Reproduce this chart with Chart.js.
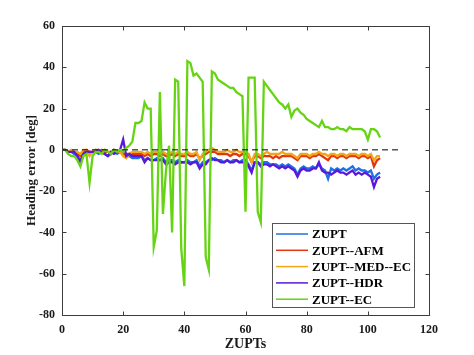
<!DOCTYPE html>
<html>
<head>
<meta charset="utf-8">
<script src="https://cdn.jsdelivr.net/npm/chart.js@4.4.0/dist/chart.umd.min.js"></script>
<style>
  html, body { margin: 0; padding: 0; background: #ffffff; }
  #wrap { width: 474px; height: 355px; }
</style>
</head>
<body>
<div id="wrap"><canvas id="c" width="474" height="355"></canvas></div>
<script>
// ---- data ----
const zupts = [
  0,1,2,3,4,5,6,7,8,9,10,11,12,13,14,15,16,17,18,19,20,21,22,23,24,25,26,27,28,29,
  30,31,32,33,34,35,36,37,38,39,40,41,42,43,44,45,46,47,48,49,50,51,52,53,54,55,56,57,58,59,
  60,61,62,63,64,65,66,67,68,69,70,71,72,73,74,75,76,77,78,79,80,81,82,83,84,85,86,87,88,89,
  90,91,92,93,94,95,96,97,98,99,100,101,102,103,104
];
const seriesNames = ['ZUPT', 'ZUPT--AFM', 'ZUPT--MED--EC', 'ZUPT--HDR', 'ZUPT--EC'];
const zupt = [
  0,0,-1,-1,-2,-3,-5,-2,-1,-2, -1,-1,-2,-1,-2,-3,-2,-1,-2,-1,
  -2,-3,-3,-4,-4,-4,-3,-5,-4,-5, -5,-4,-5,-4,-6,-5,-5,-6,-5,-6,
  -6,-5,-6,-6,-5,-8,-6,-6,-5,-5, -4,-5,-5,-6,-5,-6,-5,-5,-6,-5,
  -5,-7,-10,-6,-6,-7,-6,-6,-7,-7, -7,-8,-7,-8,-7,-8,-9,-12,-9,-8,
  -9,-9,-8,-9,-7,-9,-10,-14,-9,-10, -9,-10,-9,-10,-9,-8,-10,-9,-10,-10,
  -11,-10,-14,-12,-11
];
const zuptAfm = [
  0,0,-1,-1,-1,-2,-3,-1,0,-1, -1,0,-1,0,-1,-1,-2,0,-1,-1,
  -2,-2,-2,-2,-2,-2,-2,-3,-2,-3, -2,-2,-3,-2,-3,-3,-2,-3,-2,-3,
  -3,-2,-3,-3,-2,-4,-3,-2,-1,-1, -1,-2,-2,-2,-2,-3,-2,-2,-3,-2,
  -2,-3,-6,-3,-3,-4,-3,-3,-3,-4, -3,-4,-3,-3,-3,-3,-4,-5,-3,-3,
  -3,-4,-3,-3,-2,-3,-4,-5,-3,-3, -4,-3,-3,-4,-3,-3,-3,-4,-3,-3,
  -4,-3,-8,-5,-4
];
const zuptMedEc = [
  0,0,-1,0,-1,-1,-2,0,0,-3, -1,0,0,-1,0,-1,-1,0,-1,-1,
  -3,-4,-2,-1,-1,-1,-1,-2,-1,-2, -1,-1,-2,-1,-2,-2,-1,-2,-1,-2,
  -2,-1,-2,-2,-1,-5,-2,-1,0,1, 0,-1,-1,-1,0,-1,-1,0,-1,-1,
  -1,-2,-6,-2,-2,-3,-2,-1,-2,-2, -2,-2,-1,-2,-2,-2,-3,-4,-2,-2,
  -2,-3,-2,-2,-1,-2,-2,-3,-2,-2, -3,-2,-2,-3,-2,-2,-2,-3,-2,-2,
  -3,-2,-5,-3,-3
];
const zuptHdr = [
  0,0,-1,-1,-1,-3,-6,-2,-1,-1, -1,-1,0,-1,-2,-3,-1,-2,-1,0,
  5,-3,-2,-3,-3,-3,-3,-6,-4,-5, -5,-5,-5,-5,-7,-6,-6,-7,-6,-6,
  -6,-6,-7,-6,-6,-9,-7,-7,-5,-4, -5,-5,-6,-6,-5,-6,-6,-5,-6,-6,
  -5,-8,-11,-6,-6,-8,-7,-7,-8,-7, -8,-9,-8,-9,-8,-9,-10,-13,-10,-9,
  -10,-10,-9,-9,-6,-10,-11,-11,-12,-11, -10,-11,-11,-12,-11,-10,-12,-11,-12,-11,
  -12,-13,-18,-14,-13
];
const zuptEc = [
  0,0,-2,-3,-3,-5,-8,-3,-2,-16, -3,-1,-1,-2,0,-1,-2,0,-1,0,
  -1,1,2,4,13,13,14,23,20,20, -47,-39,28,-31,-10,2,-40,34,33,-48,
  -66,43,42,36,37,35,33,-52,-58,38, 37,34,33,32,31,30,30,28,27,26,
  -30,35,35,35,-30,-35,33,31,29,27, 25,23,22,20,22,16,19,20,18,17,
  15,14,13,12,11,14,11,11,10,10, 11,10,10,9,11,10,10,10,10,9,
  5,10,10,9,6
];
const refX = [0, 110];
const refY = [0, 0];
const xTicks = [0, 20, 40, 60, 80, 100, 120];
const yTicks = [-80, -60, -40, -20, 0, 20, 40, 60];

const colors = ['#1f6fe6', '#e2360f', '#f2a61c', '#5a18d8', '#66d415'];
const allSeries = [zupt, zuptAfm, zuptMedEc, zuptHdr, zuptEc];

const serif = "'Liberation Serif', 'Times New Roman', serif";

const datasets = allSeries.map((arr, k) => ({
  label: seriesNames[k],
  data: zupts.map((x, i) => ({ x: x, y: arr[i] })),
  borderColor: colors[k],
  backgroundColor: colors[k],
  borderWidth: 2.3,
  pointRadius: 0,
  tension: 0,
  fill: false,
  order: 4 - k
}));
datasets.push({
  label: 'zero',
  data: refX.map((x, i) => ({ x: x, y: refY[i] })),
  borderColor: '#000000',
  borderWidth: 1,
  borderDash: [6, 4],
  pointRadius: 0,
  fill: false,
  order: -1
});

const framePlugin = {
  id: 'frame',
  afterDraw(chart) {
    const ctx = chart.ctx;
    const a = chart.chartArea;
    const xs = chart.scales.x, ys = chart.scales.y;
    ctx.save();
    ctx.strokeStyle = '#3c3c3c';
    ctx.lineWidth = 1;
    const L = Math.round(a.left) + 0.5, R = Math.round(a.right) + 0.5;
    const T = Math.round(a.top) + 0.5, B = Math.round(a.bottom) + 0.5;
    ctx.strokeRect(L, T, R - L, B - T);
    const tl = 4;
    ctx.beginPath();
    xTicks.forEach(v => {
      const px = Math.round(xs.getPixelForValue(v)) + 0.5;
      ctx.moveTo(px, B); ctx.lineTo(px, B - tl);
      ctx.moveTo(px, T); ctx.lineTo(px, T + tl);
    });
    yTicks.forEach(v => {
      const py = Math.round(ys.getPixelForValue(v)) + 0.5;
      ctx.moveTo(L, py); ctx.lineTo(L + tl, py);
      ctx.moveTo(R, py); ctx.lineTo(R - tl, py);
    });
    ctx.stroke();

    // legend box (inside the plot, lower right)
    const bx = 272.5, by = 223.5, bw = 142, bh = 84;
    ctx.fillStyle = '#ffffff';
    ctx.fillRect(bx, by, bw, bh);
    ctx.strokeStyle = '#555555';
    ctx.strokeRect(bx, by, bw, bh);
    ctx.font = 'bold 13px ' + serif;
    ctx.textBaseline = 'middle';
    ctx.textAlign = 'left';
    seriesNames.forEach((name, k) => {
      const yy = 234 + k * 16.3;
      ctx.strokeStyle = colors[k];
      ctx.lineWidth = 1.5;
      ctx.beginPath();
      ctx.moveTo(276, yy); ctx.lineTo(308, yy);
      ctx.stroke();
      ctx.fillStyle = '#000000';
      ctx.fillText(name, 312, yy + 1);
    });
    ctx.restore();
  }
};

new Chart(document.getElementById('c'), {
  type: 'line',
  data: { datasets: datasets },
  options: {
    responsive: false,
    animation: false,
    devicePixelRatio: 1,
    layout: { padding: { left: 0, top: 26, right: 45, bottom: 0 } },
    plugins: { legend: { display: false }, tooltip: { enabled: false } },
    scales: {
      x: {
        type: 'linear', min: 0, max: 120,
        afterFit(s) { s.height = 40; },
        grid: { display: false, drawTicks: false },
        border: { display: false },
        ticks: {
          stepSize: 20, padding: 8, color: '#1a1a1a', maxRotation: 0,
          font: { family: serif, size: 12, weight: 'bold' }
        },
        title: {
          display: true, text: 'ZUPTs', color: '#1a1a1a',
          font: { family: serif, size: 14, weight: 'bold' },
          padding: { top: 0, bottom: 2 }
        }
      },
      y: {
        type: 'linear', min: -80, max: 60,
        afterFit(s) { s.width = 62; },
        grid: { display: false, drawTicks: false },
        border: { display: false },
        ticks: {
          stepSize: 20, padding: 7, color: '#1a1a1a',
          font: { family: serif, size: 12, weight: 'bold' }
        },
        title: {
          display: true, text: 'Heading error [deg]', color: '#1a1a1a',
          font: { family: serif, size: 13, weight: 'bold' },
          padding: { top: 24, bottom: 0 }
        }
      }
    }
  },
  plugins: [framePlugin]
});
</script>
</body>
</html>
